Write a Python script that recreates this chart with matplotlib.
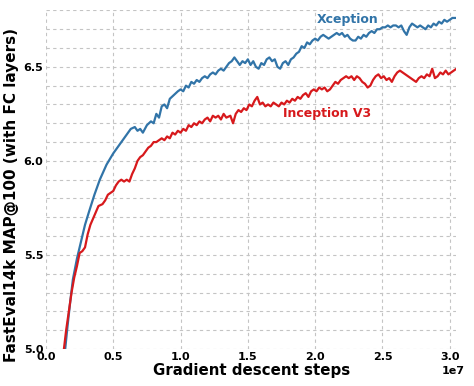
import numpy as np
import matplotlib
matplotlib.use("Agg")
import matplotlib.pyplot as plt
from matplotlib.ticker import MultipleLocator

# steps in units of 1e7
xception_x = [0.14, 0.16, 0.18, 0.20, 0.23, 0.26, 0.29, 0.32, 0.36, 0.40, 0.45, 0.50, 0.55, 0.60,
              0.63, 0.66, 0.68, 0.70, 0.72, 0.75, 0.78, 0.80, 0.82, 0.84, 0.86, 0.88, 0.90, 0.92,
              0.95, 0.98, 1.00, 1.02, 1.04, 1.06, 1.08, 1.10, 1.12, 1.14, 1.16, 1.18, 1.20, 1.22,
              1.24, 1.26, 1.28, 1.30, 1.32, 1.34, 1.36, 1.38, 1.40, 1.42, 1.44, 1.46, 1.48, 1.50,
              1.52, 1.54, 1.56, 1.58, 1.60, 1.62,
              1.64, 1.66, 1.68, 1.70, 1.72, 1.74, 1.76, 1.78, 1.80, 1.82, 1.84, 1.86, 1.88, 1.90,
              1.92, 1.94, 1.96, 1.98, 2.00, 2.02, 2.04, 2.06, 2.08, 2.10, 2.12, 2.14, 2.16, 2.18,
              2.20, 2.22, 2.24, 2.26, 2.28, 2.30, 2.32, 2.34, 2.36, 2.38, 2.40, 2.42, 2.44, 2.46,
              2.48, 2.50, 2.52, 2.54, 2.56, 2.58, 2.60, 2.62, 2.64, 2.66, 2.68, 2.70, 2.72, 2.74,
              2.76, 2.78, 2.80, 2.82, 2.84, 2.86, 2.88, 2.90, 2.92, 2.94, 2.96, 2.98, 3.00, 3.02, 3.04]
xception_y = [4.98, 5.12, 5.25, 5.37, 5.48, 5.57, 5.66, 5.73, 5.82, 5.90, 5.98, 6.04, 6.09, 6.14,
              6.17, 6.18, 6.16, 6.17, 6.15, 6.19, 6.21, 6.20, 6.25, 6.23, 6.29, 6.30, 6.28, 6.33,
              6.35, 6.37, 6.38, 6.37, 6.40, 6.39, 6.42, 6.41, 6.43, 6.42, 6.44, 6.45, 6.44, 6.46,
              6.47, 6.46, 6.48, 6.49, 6.48, 6.50, 6.52, 6.53, 6.55, 6.53, 6.51, 6.53, 6.52, 6.54,
              6.51, 6.53, 6.50, 6.49, 6.52, 6.51,
              6.54, 6.55, 6.53, 6.54, 6.50, 6.49, 6.52, 6.53, 6.51, 6.54, 6.55, 6.57, 6.58, 6.61,
              6.60, 6.63, 6.62, 6.64, 6.65, 6.64, 6.66, 6.67, 6.66, 6.65, 6.66, 6.67, 6.68, 6.67,
              6.68, 6.66, 6.67, 6.65, 6.64, 6.64, 6.66, 6.65, 6.67, 6.66, 6.68, 6.69, 6.68, 6.70,
              6.70, 6.71, 6.71, 6.72, 6.71, 6.72, 6.72, 6.71, 6.72, 6.69, 6.67, 6.71, 6.73, 6.72,
              6.71, 6.72, 6.71, 6.70, 6.72, 6.71, 6.73, 6.72, 6.74, 6.73, 6.75, 6.74, 6.75, 6.76, 6.76]

inception_x = [0.13, 0.15, 0.17, 0.19, 0.21, 0.23, 0.25, 0.27, 0.29, 0.31, 0.33, 0.36, 0.39, 0.42,
               0.44, 0.46, 0.48, 0.50, 0.52, 0.54, 0.56, 0.58, 0.60, 0.62, 0.64, 0.66, 0.68, 0.70,
               0.72, 0.74, 0.76, 0.78, 0.80, 0.82, 0.84, 0.86, 0.88, 0.90, 0.92, 0.94, 0.96, 0.98,
               1.00, 1.02, 1.04, 1.06, 1.08, 1.10, 1.12, 1.14, 1.16, 1.18, 1.20, 1.22, 1.24, 1.26,
               1.28, 1.30, 1.32, 1.34, 1.37, 1.39, 1.41,
               1.43, 1.45, 1.47, 1.49, 1.51, 1.53, 1.55, 1.57, 1.59, 1.61, 1.63, 1.65, 1.67, 1.69,
               1.71, 1.73, 1.75, 1.77, 1.79, 1.81, 1.83, 1.85, 1.87, 1.89, 1.91, 1.93, 1.95, 1.97,
               1.99, 2.01, 2.03, 2.05, 2.07, 2.09, 2.11, 2.13, 2.15, 2.17, 2.19, 2.21, 2.23, 2.25,
               2.27, 2.29, 2.31, 2.33, 2.35, 2.37, 2.39, 2.41, 2.43, 2.45, 2.47, 2.49, 2.51, 2.53,
               2.55, 2.57, 2.59, 2.61, 2.63, 2.65, 2.67, 2.69, 2.71, 2.73, 2.75, 2.77, 2.79, 2.81,
               2.83, 2.85, 2.87, 2.89, 2.91, 2.93, 2.95, 2.97, 2.99, 3.01, 3.03, 3.05]
inception_y = [4.98, 5.10, 5.20, 5.30, 5.38, 5.44, 5.51, 5.52, 5.54, 5.61, 5.66, 5.71, 5.76, 5.77,
               5.79, 5.82, 5.83, 5.84, 5.87, 5.89, 5.90, 5.89, 5.90, 5.89, 5.93, 5.96, 6.00, 6.02,
               6.03, 6.05, 6.07, 6.08, 6.10, 6.10, 6.11, 6.12, 6.11, 6.13, 6.12, 6.15, 6.14, 6.16,
               6.15, 6.17, 6.16, 6.19, 6.18, 6.20, 6.19, 6.21, 6.20, 6.22, 6.23, 6.21, 6.24, 6.23,
               6.24, 6.22, 6.25, 6.23, 6.24, 6.20, 6.25,
               6.27, 6.26, 6.28, 6.27, 6.30, 6.29, 6.32, 6.34, 6.30, 6.31, 6.29, 6.30, 6.29, 6.31,
               6.30, 6.29, 6.31, 6.30, 6.32, 6.31, 6.33, 6.32, 6.34, 6.33, 6.35, 6.36, 6.34, 6.37,
               6.38, 6.37, 6.39, 6.38, 6.39, 6.37, 6.38, 6.40, 6.42, 6.41, 6.43, 6.44, 6.45, 6.44,
               6.45, 6.43, 6.45, 6.44, 6.42, 6.41, 6.39, 6.40, 6.43, 6.45, 6.46, 6.44, 6.45, 6.43,
               6.44, 6.42, 6.45, 6.47, 6.48, 6.47, 6.46, 6.45, 6.44, 6.43, 6.42, 6.44, 6.45, 6.44,
               6.46, 6.45, 6.49, 6.44, 6.45, 6.47, 6.46, 6.48, 6.46, 6.47, 6.48, 6.49]

blue = '#3174a8'
red = '#d7191c'

fig = plt.figure(figsize=(4.74, 3.86), dpi=100)
ax = fig.add_axes([0.097, 0.096, 0.866, 0.877])

ax.plot(np.array(xception_x) * 1e7, xception_y, color=blue, lw=1.6)
ax.plot(np.array(inception_x) * 1e7, inception_y, color=red, lw=1.6)

ax.set_xlim(0, 3.05e7)
ax.set_ylim(5.0, 6.8)
ax.xaxis.set_major_locator(MultipleLocator(0.5e7))
ax.yaxis.set_major_locator(MultipleLocator(0.5))
ax.yaxis.set_minor_locator(MultipleLocator(0.1))
ax.grid(True, which='both', color='#c4c4c4', ls=(0, (3, 3)), lw=0.8)
ax.set_axisbelow(True)
for s in ax.spines.values():
    s.set_visible(False)
ax.tick_params(which='both', length=0, labelsize=8, pad=2)
for lab in ax.get_xticklabels() + ax.get_yticklabels():
    lab.set_fontweight('bold')
ax.xaxis.get_offset_text().set_fontweight('bold')
ax.xaxis.get_offset_text().set_fontsize(8)
ax.xaxis.get_offset_text().set_x(1.02)

ax.set_xlabel('Gradient descent steps', fontsize=10.8, fontweight='bold', labelpad=1)
ax.set_ylabel('FastEval14k MAP@100 (with FC layers)', fontsize=11, fontweight='bold')
ax.yaxis.set_label_coords(-0.066, 0.455)

ax.text(2.24e7, 6.75, 'Xception', color=blue, fontsize=9, fontweight='bold', ha='center', va='center')
ax.text(2.09e7, 6.25, 'Inception V3', color=red, fontsize=9, fontweight='bold', ha='center', va='center')

fig.savefig('out.png', dpi=100)
